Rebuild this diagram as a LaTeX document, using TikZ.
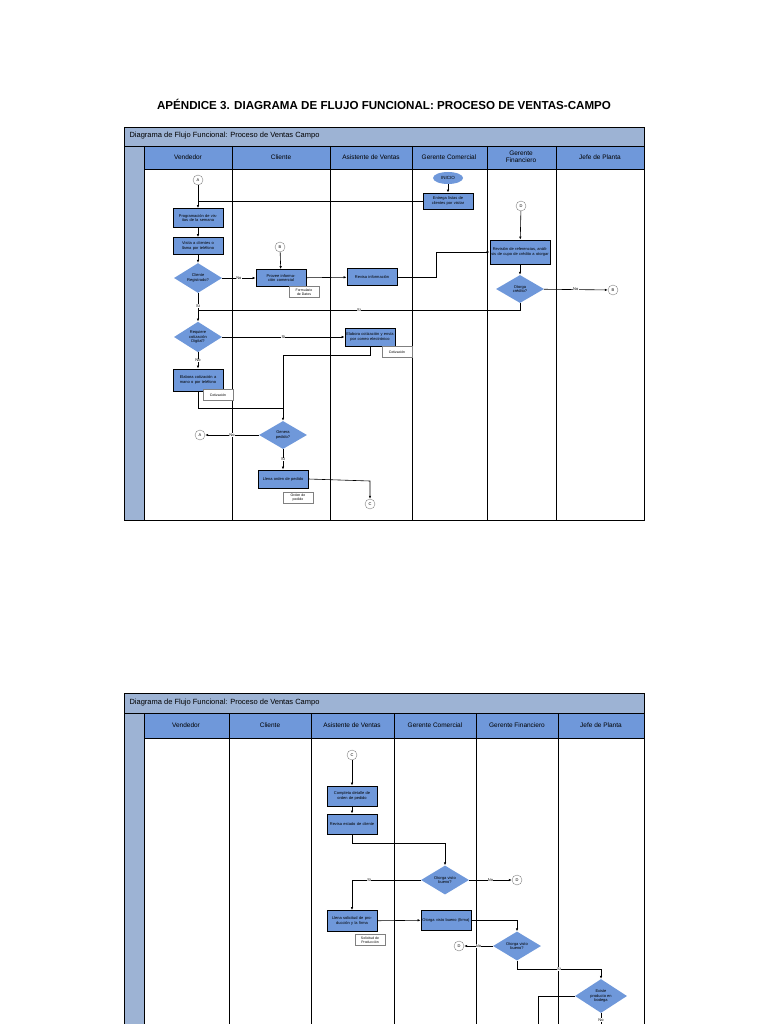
\documentclass[tikz,border=0pt]{standalone}
\usepackage{fontspec}
\setmainfont{Liberation Sans}
\usetikzlibrary{shapes.geometric,arrows.meta}
\definecolor{bar}{HTML}{9DB3D4}
\definecolor{box}{HTML}{6F98DA}
\tikzset{
 proc/.style={draw,line width=0.8pt,fill=box,minimum width=50pt,minimum height=19pt,inner sep=0.5pt,align=center,font=\fontsize{4}{4.5}\selectfont,text width=48pt},
 dec/.style={diamond,fill=box,minimum width=48pt,minimum height=28pt,inner sep=0pt,align=center,font=\fontsize{4}{4.5}\selectfont},
 conn/.style={circle,draw=gray,fill=white,minimum size=10pt,inner sep=0pt,font=\fontsize{4}{4}\selectfont},
 docu/.style={draw=gray,fill=white,minimum width=30pt,minimum height=11pt,inner sep=0.5pt,align=center,font=\fontsize{3.5}{4}\selectfont},
 lbl/.style={fill=white,inner sep=0.3pt,font=\fontsize{4}{4}\selectfont},
 arr/.style={-{Latex[length=3pt,width=2.5pt]},line width=0.6pt},
 ln/.style={line width=0.6pt},
 hdr/.style={font=\fontsize{6.5}{7.5}\selectfont,align=center},
}
\begin{document}
\begin{tikzpicture}[x=1pt,y=-1pt]
\useasboundingbox (0,0) rectangle (768,1024);
\node[font=\bfseries\fontsize{11.6}{13}\selectfont] (title) at (384,104) {APÉNDICE 3. DIAGRAMA DE FLUJO FUNCIONAL: PROCESO DE VENTAS-CAMPO};
% ---------- top frame
\fill[bar] (124,127) rectangle (644,146);
\fill[bar] (124,146) rectangle (144,520);
\fill[box] (144,146) rectangle (644,169);
\draw[line width=0.8pt] (124,127) rectangle (644,520);
\draw[line width=0.8pt] (124,146) -- (644,146);
\draw[line width=0.8pt] (144,169) -- (644,169);
\foreach \x in {144,232,330,412,487,556} \draw[line width=0.8pt] (\x,146) -- (\x,520);
\node[anchor=west,font=\fontsize{7.5}{8}\selectfont] (t1) at (126,136) {Diagrama de Flujo Funcional: Proceso de Ventas Campo};
\node[hdr] (h1) at (188,157) {Vendedor};
\node[hdr] (h2) at (281,157) {Cliente};
\node[hdr] (h3) at (371,157) {Asistente de Ventas};
\node[hdr] (h4) at (449,157) {Gerente Comercial};
\node[hdr] (h5) at (521,157) {Gerente\\Financiero};
\node[hdr] (h6) at (600,157) {Jefe de Planta};
% nodes
\node[conn] (A1) at (198,180) {A};
\node[proc] (prog) at (198,218) {Programación de visitas de la semana};
\node[proc,minimum height=17pt] (vis) at (198,246) {Visita a clientes o llama por teléfono};
\node[dec] (reg) at (198,278) {Cliente\\Registrado?};
\node[conn] (B1) at (280,247) {B};
\node[proc,minimum height=17pt] (prov) at (281,278) {Provee información comercial};
\node[docu] (form) at (304,292) {Formulario\\de Datos};
\node[proc,minimum height=17pt] (rev) at (372,277) {Revisa información};
\node[ellipse,fill=box,minimum width=30pt,minimum height=12pt,inner sep=0pt,font=\fontsize{4.5}{5}\selectfont] (ini) at (448,178) {INICIO};
\node[proc,minimum height=16pt] (ent) at (448,201) {Entrega listas de clientes por visitar};
\node[conn] (D1) at (521,206) {D};
\node[proc,minimum width=60pt,text width=58pt,minimum height=24pt] (rref) at (520,252) {Revisión de referencias, análisis de cupo de crédito a otorgar};
\node[dec] (cred) at (520,289) {Otorga\\crédito?};
\node[conn] (B2) at (613,290) {B};
\node[dec] (digi) at (198,337) {Requiere\\cotización\\Digital?};
\node[proc,minimum height=18pt] (email) at (370,337) {Elabora cotización y envía por correo electrónico};
\node[docu] (cot1) at (397,352) {Cotización};
\node[proc,minimum height=22pt] (mano) at (198,380) {Elabora cotización a mano o por teléfono};
\node[docu] (cot2) at (218,395) {Cotización};
\node[dec] (gen) at (283,435) {Genera\\pedido?};
\node[conn] (A2) at (200,435) {A};
\node[proc,minimum height=18pt] (llena) at (283,479) {Llena orden de pedido};
\node[docu] (ord) at (298,498) {Orden de\\pedido};
\node[conn] (C1) at (370,504) {C};
% edges
\draw[arr] (A1) -- (prog);
\draw[ln] (ent.west) -- (198,201);
\draw[arr] (ini) -- (ent);
\draw[arr] (prog) -- (vis);
\draw[arr] (vis) -- (reg);
\draw[arr] (reg) -- node[lbl]{No} (prov);
\draw[arr] (B1) -- (prov);
\draw[arr] (prov) -- (rev);
\draw[arr] (rev.east) -- (436,277) -- (436,252) -- (rref.west);
\draw[arr] (D1) -- (rref);
\draw[arr] (rref) -- (cred);
\draw[arr] (cred) -- node[lbl]{No} (B2);
\draw[arr] (cred.south) -- (520,310) -- node[lbl,pos=0.5]{Si} (198,310) -- (digi.north);
\draw[ln] (reg.south) -- node[lbl,pos=0.75]{Si} (198,310);
\draw[arr] (digi) -- node[lbl]{Si} (email);
\draw[arr] (email.south) -- (370,355) -- (283,355) -- (gen.north);
\draw[arr] (digi) -- node[lbl]{No} (mano);
\draw[ln] (mano.south) -- (198,408) -- (283,408);
\draw[arr] (gen) -- node[lbl]{No} (A2);
\draw[arr] (gen) -- node[lbl]{Si} (llena);
\draw[arr] (llena.east) -- (370,481) -- (C1);
% ---------- bottom frame
\fill[bar] (124,693) rectangle (644,713);
\fill[bar] (124,713) rectangle (144,1024);
\fill[box] (144,713) rectangle (644,738);
\draw[line width=0.8pt] (124,1030) -- (124,693) -- (644,693) -- (644,1030);
\draw[line width=0.8pt] (124,713) -- (644,713);
\draw[line width=0.8pt] (144,738) -- (644,738);
\foreach \x in {144,229,311,394,476,558} \draw[line width=0.8pt] (\x,713) -- (\x,1030);
\node[anchor=west,font=\fontsize{7.5}{8}\selectfont] (t2) at (126,703) {Diagrama de Flujo Funcional: Proceso de Ventas Campo};
\node[hdr] (g1) at (186,725) {Vendedor};
\node[hdr] (g2) at (270,725) {Cliente};
\node[hdr] (g3) at (352,725) {Asistente de Ventas};
\node[hdr] (g4) at (435,725) {Gerente Comercial};
\node[hdr] (g5) at (517,725) {Gerente Financiero};
\node[hdr] (g6) at (601,725) {Jefe de Planta};
\node[conn] (C2) at (352,755) {C};
\node[proc,minimum height=20pt] (comp) at (352,796) {Completa detalle de orden de pedido};
\node[proc,minimum height=20pt] (rest) at (352,824) {Revisa estado de cliente};
\node[dec] (v1) at (445,880) {Otorga visto\\bueno?};
\node[conn] (D2) at (517,880) {D};
\node[proc,minimum height=21pt] (sol) at (352,921) {Llena solicitud de producción y la firma};
\node[docu] (sdoc) at (370,940) {Solicitud de\\Producción};
\node[proc,minimum height=20pt] (firma) at (446,920) {Otorga visto bueno (firma)};
\node[dec] (v2) at (517,946) {Otorga visto\\bueno?};
\node[conn] (D3) at (459,946) {D};
\node[dec,minimum width=52pt] (ex) at (601,996) {Existe\\producto en\\bodega};
\coordinate (exl) at (538,1030);
\draw[arr] (C2) -- (comp);
\draw[arr] (comp) -- (rest);
\draw[arr] (rest.south) -- (352,843) -- (445,843) -- (v1.north);
\draw[arr] (v1) -- node[lbl]{No} (D2);
\draw[arr] (v1.west) -- node[lbl,pos=0.75]{Si} (352,880) -- (sol.north);
\draw[arr] (sol) -- (firma);
\draw[arr] (firma.east) -- (517,920) -- (v2.north);
\draw[arr] (v2) -- node[lbl]{No} (D3);
\draw[arr] (v2.south) -- (517,969) -- node[lbl]{Si} (601,969) -- (ex.north);
\draw[ln] (ex.west) -- (538,996) -- (exl);
\draw[arr] (ex.south) -- node[lbl,pos=0.4]{No} (601,1030);
\end{tikzpicture}
\end{document}
